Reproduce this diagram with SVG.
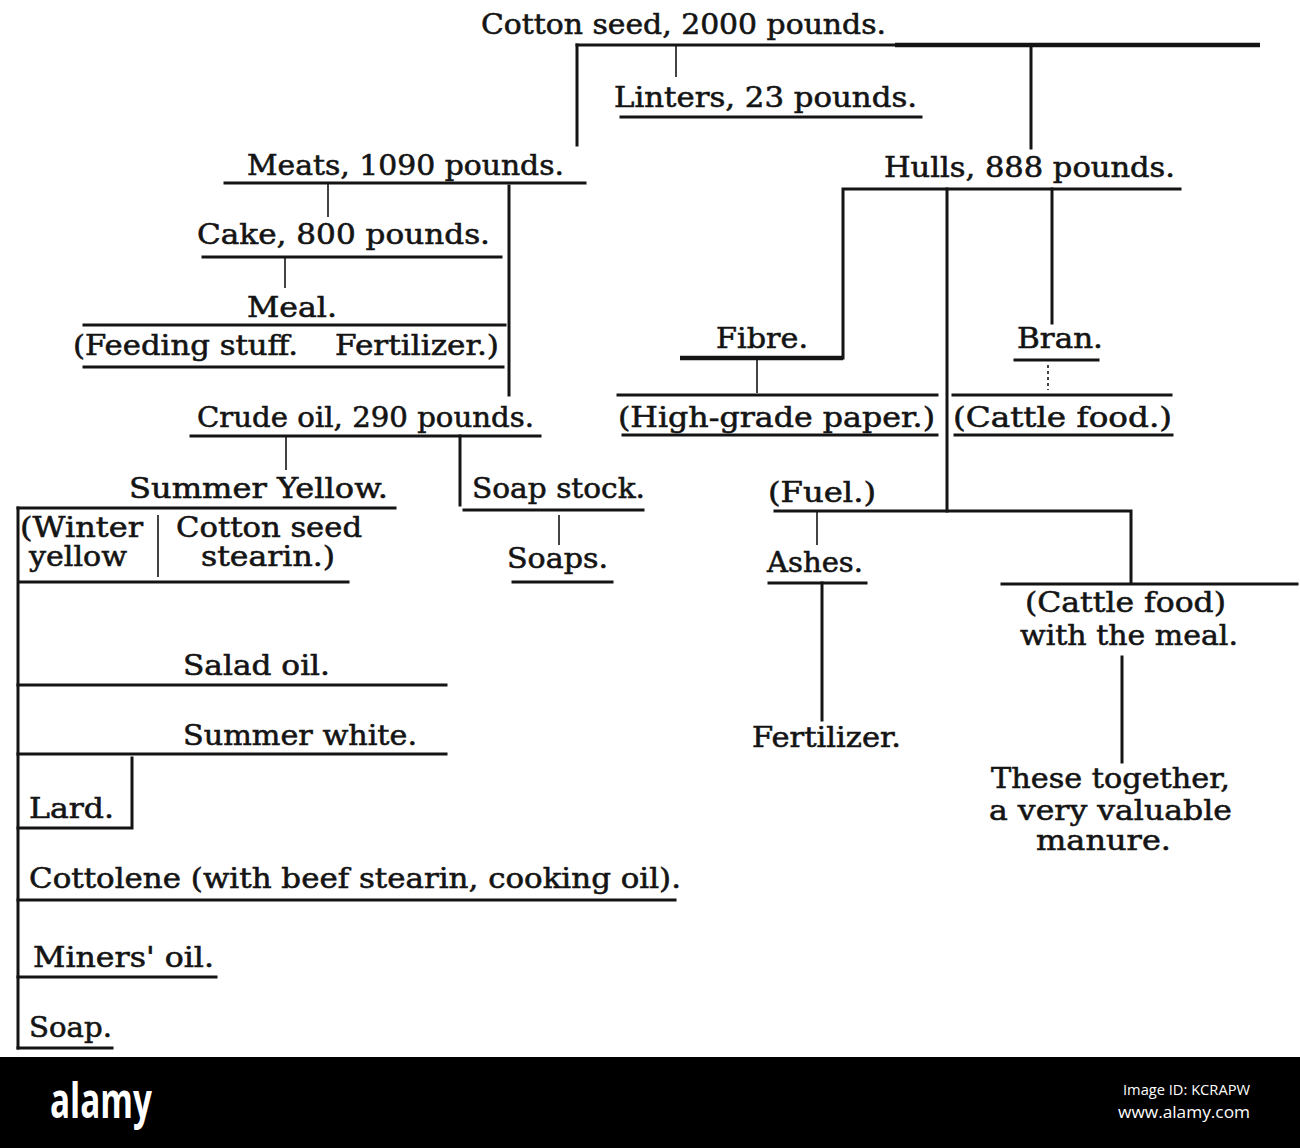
<svg xmlns="http://www.w3.org/2000/svg" width="1300" height="1148" viewBox="0 0 1300 1148">
<style>
.t{font-family:"DejaVu Serif","Liberation Serif",serif;font-size:27px;fill:#141414;stroke:#141414;stroke-width:0.55}
.ln{stroke:#141414;stroke-width:3;fill:none;stroke-linecap:square}
.th{stroke:#141414;stroke-width:4.5;fill:none}
.tk{stroke:#141414;stroke-width:1.6;fill:none}
.wm{font-family:"Open Sans","DejaVu Sans",sans-serif;fill:#fff}
</style>
<rect width="1300" height="1148" fill="#fff"/>
<g id="connectors">
<path class="ln" d="M577,145 V45"/>
<path class="ln" d="M577,45 H900"/>
<path class="th" d="M895,45 H1260"/>
<path class="tk" d="M676,45 V77"/>
<path class="ln" d="M621,117 H921"/>
<path class="ln" d="M1031,45 V148"/>
<path class="ln" d="M225,183 H585"/>
<path class="tk" d="M328,183 V217"/>
<path class="ln" d="M509,186 V395"/>
<path class="ln" d="M203,257 H501"/>
<path class="tk" d="M285,257 V288"/>
<path class="ln" d="M84,325 H505"/>
<path class="ln" d="M84,367 H503"/>
<path class="ln" d="M191,436 H540"/>
<path class="tk" d="M286,436 V470"/>
<path class="ln" d="M460,436 V505"/>
<path class="ln" d="M18,508 H395"/>
<path class="ln" d="M18,508 V1048"/>
<path class="tk" d="M158,515 V577"/>
<path class="ln" d="M20,582 H348"/>
<path class="ln" d="M464,510 H643"/>
<path class="tk" d="M559,515 V545"/>
<path class="ln" d="M513,582 H612"/>
<path class="ln" d="M18,685 H446"/>
<path class="ln" d="M18,754 H446"/>
<path class="ln" d="M132,758 V828 H18"/>
<path class="ln" d="M18,900 H675"/>
<path class="ln" d="M18,977 H216"/>
<path class="ln" d="M18,1048 H112"/>
<path class="ln" d="M843,358 V189 H1180"/>
<path class="th" d="M680,358 H843"/>
<path class="ln" d="M947,189 V511"/>
<path class="ln" d="M1052,189 V323"/>
<path class="ln" d="M1015,360 H1098"/>
<path class="tk" d="M757,360 V393"/>
<path class="tk" d="M1048,365 V390" stroke-dasharray="3,3"/>
<path class="ln" d="M618,395 H937"/>
<path class="ln" d="M623,435 H937"/>
<path class="ln" d="M953,395 H1171"/>
<path class="ln" d="M955,435 H1172"/>
<path class="ln" d="M775,511 H1131 V583"/>
<path class="tk" d="M817,511 V545"/>
<path class="ln" d="M769,583 H866"/>
<path class="ln" d="M822,583 V720"/>
<path class="ln" d="M1002,584 H1297"/>
<path class="ln" d="M1122,657 V762"/>
</g>
<g id="cotton-seed"><text class="t" x="481" y="34" textLength="405" lengthAdjust="spacingAndGlyphs">Cotton seed, 2000 pounds.</text></g>
<g id="linters"><text class="t" x="614" y="107" textLength="303" lengthAdjust="spacingAndGlyphs">Linters, 23 pounds.</text></g>
<g id="meats"><text class="t" x="247" y="175" textLength="317" lengthAdjust="spacingAndGlyphs">Meats, 1090 pounds.</text></g>
<g id="hulls"><text class="t" x="884" y="177" textLength="291" lengthAdjust="spacingAndGlyphs">Hulls, 888 pounds.</text></g>
<g id="cake"><text class="t" x="197" y="244" textLength="293" lengthAdjust="spacingAndGlyphs">Cake, 800 pounds.</text></g>
<g id="meal"><text class="t" x="247" y="317" textLength="90" lengthAdjust="spacingAndGlyphs">Meal.</text></g>
<g id="feeding"><text class="t" y="355"><tspan x="73" textLength="225" lengthAdjust="spacingAndGlyphs">(Feeding stuff.</tspan><tspan x="335" textLength="164" lengthAdjust="spacingAndGlyphs">Fertilizer.)</tspan></text></g>
<g id="crude-oil"><text class="t" x="197" y="427" textLength="337" lengthAdjust="spacingAndGlyphs">Crude oil, 290 pounds.</text></g>
<g id="fibre"><text class="t" x="716" y="348" textLength="92" lengthAdjust="spacingAndGlyphs">Fibre.</text></g>
<g id="bran"><text class="t" x="1017" y="348" textLength="86" lengthAdjust="spacingAndGlyphs">Bran.</text></g>
<g id="paper"><text class="t" x="618" y="427" textLength="317" lengthAdjust="spacingAndGlyphs">(High-grade paper.)</text></g>
<g id="cattle-food"><text class="t" x="953" y="427" textLength="219" lengthAdjust="spacingAndGlyphs">(Cattle food.)</text></g>
<g id="summer-yellow"><text class="t" x="129" y="498" textLength="259" lengthAdjust="spacingAndGlyphs">Summer Yellow.</text></g>
<g id="soap-stock"><text class="t" x="472" y="498" textLength="173" lengthAdjust="spacingAndGlyphs">Soap stock.</text></g>
<g id="winter-yellow"><text class="t" x="20" y="537" textLength="123" lengthAdjust="spacingAndGlyphs">(Winter</text><text class="t" x="29" y="566" textLength="98" lengthAdjust="spacingAndGlyphs">yellow</text></g>
<g id="stearin"><text class="t" x="176" y="537" textLength="186" lengthAdjust="spacingAndGlyphs">Cotton seed</text><text class="t" x="201" y="566" textLength="134" lengthAdjust="spacingAndGlyphs">stearin.)</text></g>
<g id="soaps"><text class="t" x="507" y="568" textLength="101" lengthAdjust="spacingAndGlyphs">Soaps.</text></g>
<g id="fuel"><text class="t" x="768" y="502" textLength="108" lengthAdjust="spacingAndGlyphs">(Fuel.)</text></g>
<g id="ashes"><text class="t" x="767" y="572" textLength="96" lengthAdjust="spacingAndGlyphs">Ashes.</text></g>
<g id="cattle-meal"><text class="t" x="1025" y="612" textLength="201" lengthAdjust="spacingAndGlyphs">(Cattle food)</text><text class="t" x="1020" y="645" textLength="218" lengthAdjust="spacingAndGlyphs">with the meal.</text></g>
<g id="salad-oil"><text class="t" x="183" y="675" textLength="147" lengthAdjust="spacingAndGlyphs">Salad oil.</text></g>
<g id="summer-white"><text class="t" x="183" y="745" textLength="234" lengthAdjust="spacingAndGlyphs">Summer white.</text></g>
<g id="fertilizer"><text class="t" x="752" y="747" textLength="149" lengthAdjust="spacingAndGlyphs">Fertilizer.</text></g>
<g id="manure"><text class="t" x="991" y="788" textLength="239" lengthAdjust="spacingAndGlyphs">These together,</text><text class="t" x="989" y="820" textLength="243" lengthAdjust="spacingAndGlyphs">a very valuable</text><text class="t" x="1036" y="850" textLength="135" lengthAdjust="spacingAndGlyphs">manure.</text></g>
<g id="lard"><text class="t" x="29" y="818" textLength="85" lengthAdjust="spacingAndGlyphs">Lard.</text></g>
<g id="cottolene"><text class="t" x="29" y="888" textLength="652" lengthAdjust="spacingAndGlyphs">Cottolene (with beef stearin, cooking oil).</text></g>
<g id="miners-oil"><text class="t" x="33" y="967" textLength="181" lengthAdjust="spacingAndGlyphs">Miners' oil.</text></g>
<g id="soap"><text class="t" x="29" y="1037" textLength="83" lengthAdjust="spacingAndGlyphs">Soap.</text></g>
<g id="band">
<rect x="0" y="1057" width="1300" height="91" fill="#000"/>
<text class="wm" x="50" y="1118" font-size="48" font-weight="bold" textLength="102" lengthAdjust="spacingAndGlyphs">alamy</text>
<text class="wm" x="1123" y="1095" font-size="14" textLength="127" lengthAdjust="spacingAndGlyphs">Image ID: KCRAPW</text>
<text class="wm" x="1118" y="1118" font-size="17" textLength="132" lengthAdjust="spacingAndGlyphs">www.alamy.com</text>
</g>
</svg>
